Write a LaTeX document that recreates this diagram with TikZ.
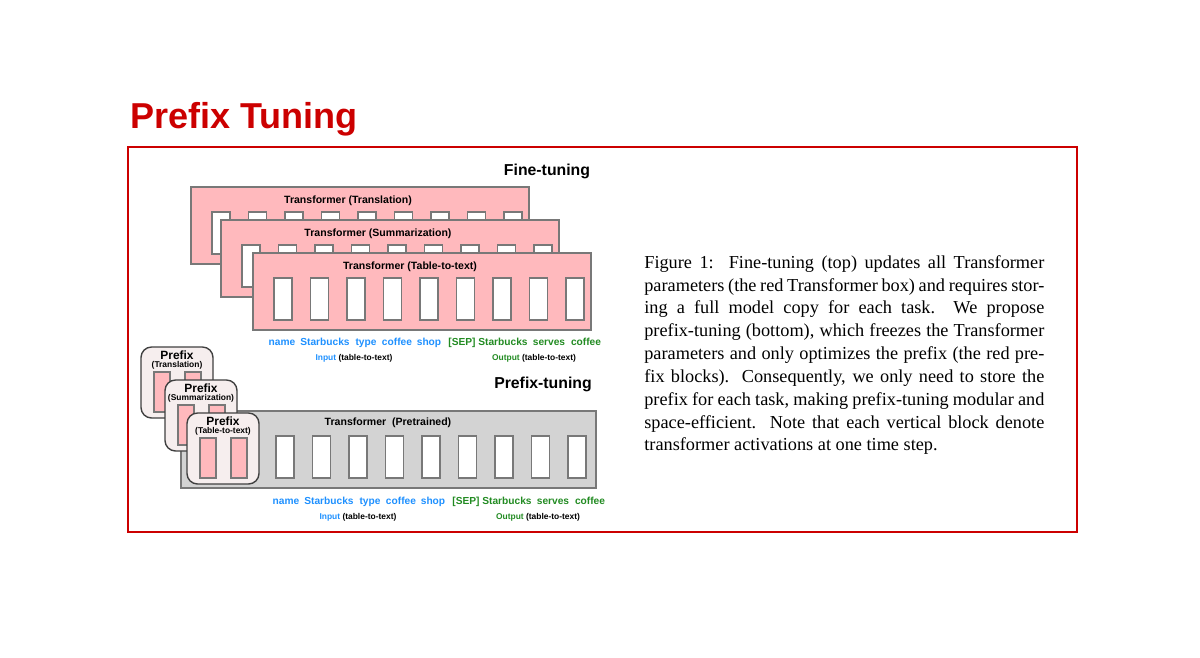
\documentclass[tikz,border=0pt]{standalone}
\usepackage{fontspec}
\setmainfont{Liberation Serif}
\newfontfamily\sansfont{Liberation Sans}
\usepackage{tikz}
\definecolor{titlered}{RGB}{204, 0, 0}
\definecolor{boxpink}{RGB}{255, 185, 189}
\definecolor{boxgray}{RGB}{211, 211, 211}
\definecolor{prefixbg}{RGB}{246, 238, 238}
\definecolor{edgegray}{RGB}{120, 120, 120}
\definecolor{inblue}{RGB}{30, 144, 255}
\definecolor{outgreen}{RGB}{34, 139, 34}

\begin{document}
\begin{tikzpicture}[x=0.02cm, y=-0.02cm, font=\sansfont\bfseries,
  layer/.style={draw=edgegray, line width=0.8pt},
  cell/.style={draw=edgegray, fill=white, line width=0.6pt},
  pcell/.style={draw=edgegray, fill=boxpink, line width=0.6pt},
  pbox/.style={draw=black!75, fill=prefixbg, line width=0.8pt, rounded corners=6pt},
  lbl/.style={font=\sansfont\bfseries\fontsize{6}{7}\selectfont},
  tok/.style={font=\sansfont\bfseries\fontsize{5.8}{7}\selectfont, anchor=base},
  sub/.style={font=\sansfont\bfseries\fontsize{4.8}{6}\selectfont, anchor=base}]
\useasboundingbox (0,0) rectangle (1200,657);

% Title and frame
\node[anchor=base west, text=titlered, font=\sansfont\bfseries\fontsize{20.5}{24}\selectfont, inner sep=0pt] (title) at (130,128) {Prefix Tuning};
\draw[titlered, line width=1.5pt] (128,147) rectangle (1077,532);

% Fine-tuning: three stacked Transformer copies
\foreach \bx/\by/\name [count=\i] in {191/187/Translation, 221/220/Summarization, 253/253/Table-to-text} {
  \draw[layer, fill=boxpink] (\bx,\by) rectangle ++(338,77);
  \node[lbl] (ft\i) at (\bx+157,\by+14) {Transformer (\name)};
  \foreach \k in {0,...,8}
    \draw[cell] (\bx+21+36.5*\k,\by+25) rectangle ++(18,42);
}
\node[font=\sansfont\bfseries\fontsize{9}{10}\selectfont] (fthead) at (547,171) {Fine-tuning};

% Prefix-tuning: one frozen Transformer
\node[font=\sansfont\bfseries\fontsize{9}{10}\selectfont] (pthead) at (543,384) {Prefix-tuning};
\draw[layer, fill=boxgray] (181,411) rectangle (596,488);
\node[lbl] (pre) at (388,423) {Transformer\ \ (Pretrained)};
\foreach \k in {0,...,8}
  \draw[cell] (276+36.5*\k,436) rectangle ++(18,42);

% Prefix blocks per task
\foreach \px/\py/\name [count=\i] in {141/347/Translation, 165/380/Summarization, 187/413/Table-to-text} {
  \draw[pbox] (\px,\py) rectangle ++(72,71);
  \node[font=\sansfont\bfseries\fontsize{6.8}{8}\selectfont, inner sep=0pt] (pf\i) at (\px+36,\py+8) {Prefix};
  \node[font=\sansfont\bfseries\fontsize{4.8}{6}\selectfont, inner sep=0pt] (pn\i) at (\px+36,\py+18) {(\name)};
  \draw[pcell] (\px+13,\py+25) rectangle ++(16,40);
  \draw[pcell] (\px+44,\py+25) rectangle ++(16,40);
}

% Token rows
\foreach \yo/\xo/\r in {345/0/a, 504/4/b} {
  \foreach \w/\x [count=\j] in {name/282, Starbucks/325, type/366, coffee/397, shop/429}
    \node[tok, text=inblue] (in\r\j) at (\x+\xo,\yo) {\w};
  \foreach \w/\x [count=\j] in {{[SEP]}/462, Starbucks/503, serves/549, coffee/586}
    \node[tok, text=outgreen] (out\r\j) at (\x+\xo,\yo) {\w};
  \node[sub] (inl\r) at (354+\xo,\yo+15) {\textcolor{inblue}{Input} (table-to-text)};
  \node[sub] (outl\r) at (534+\xo,\yo+15) {\textcolor{outgreen}{Output} (table-to-text)};
}

% Caption
\node[anchor=north west, inner sep=0pt, font=\rmfamily\mdseries\fontsize{10.4}{13}\selectfont, text width=400*0.02cm, align=justify] (cap) at (644,255)
{\emergencystretch=2em Figure 1:\ \ Fine-tuning (top) updates all Transformer\linebreak
parameters (the red Transformer box) and requires stor-\linebreak
ing a full model copy for each task.\ \ We propose\linebreak
prefix-tuning (bottom), which freezes the Transformer\linebreak
parameters and only optimizes the prefix (the red pre-\linebreak
fix blocks).\ \ Consequently, we only need to store the\linebreak
prefix for each task, making prefix-tuning modular and\linebreak
space-efficient.\ \ Note that each vertical block denote\linebreak
transformer activations at one time step.};
\end{tikzpicture}
\end{document}
